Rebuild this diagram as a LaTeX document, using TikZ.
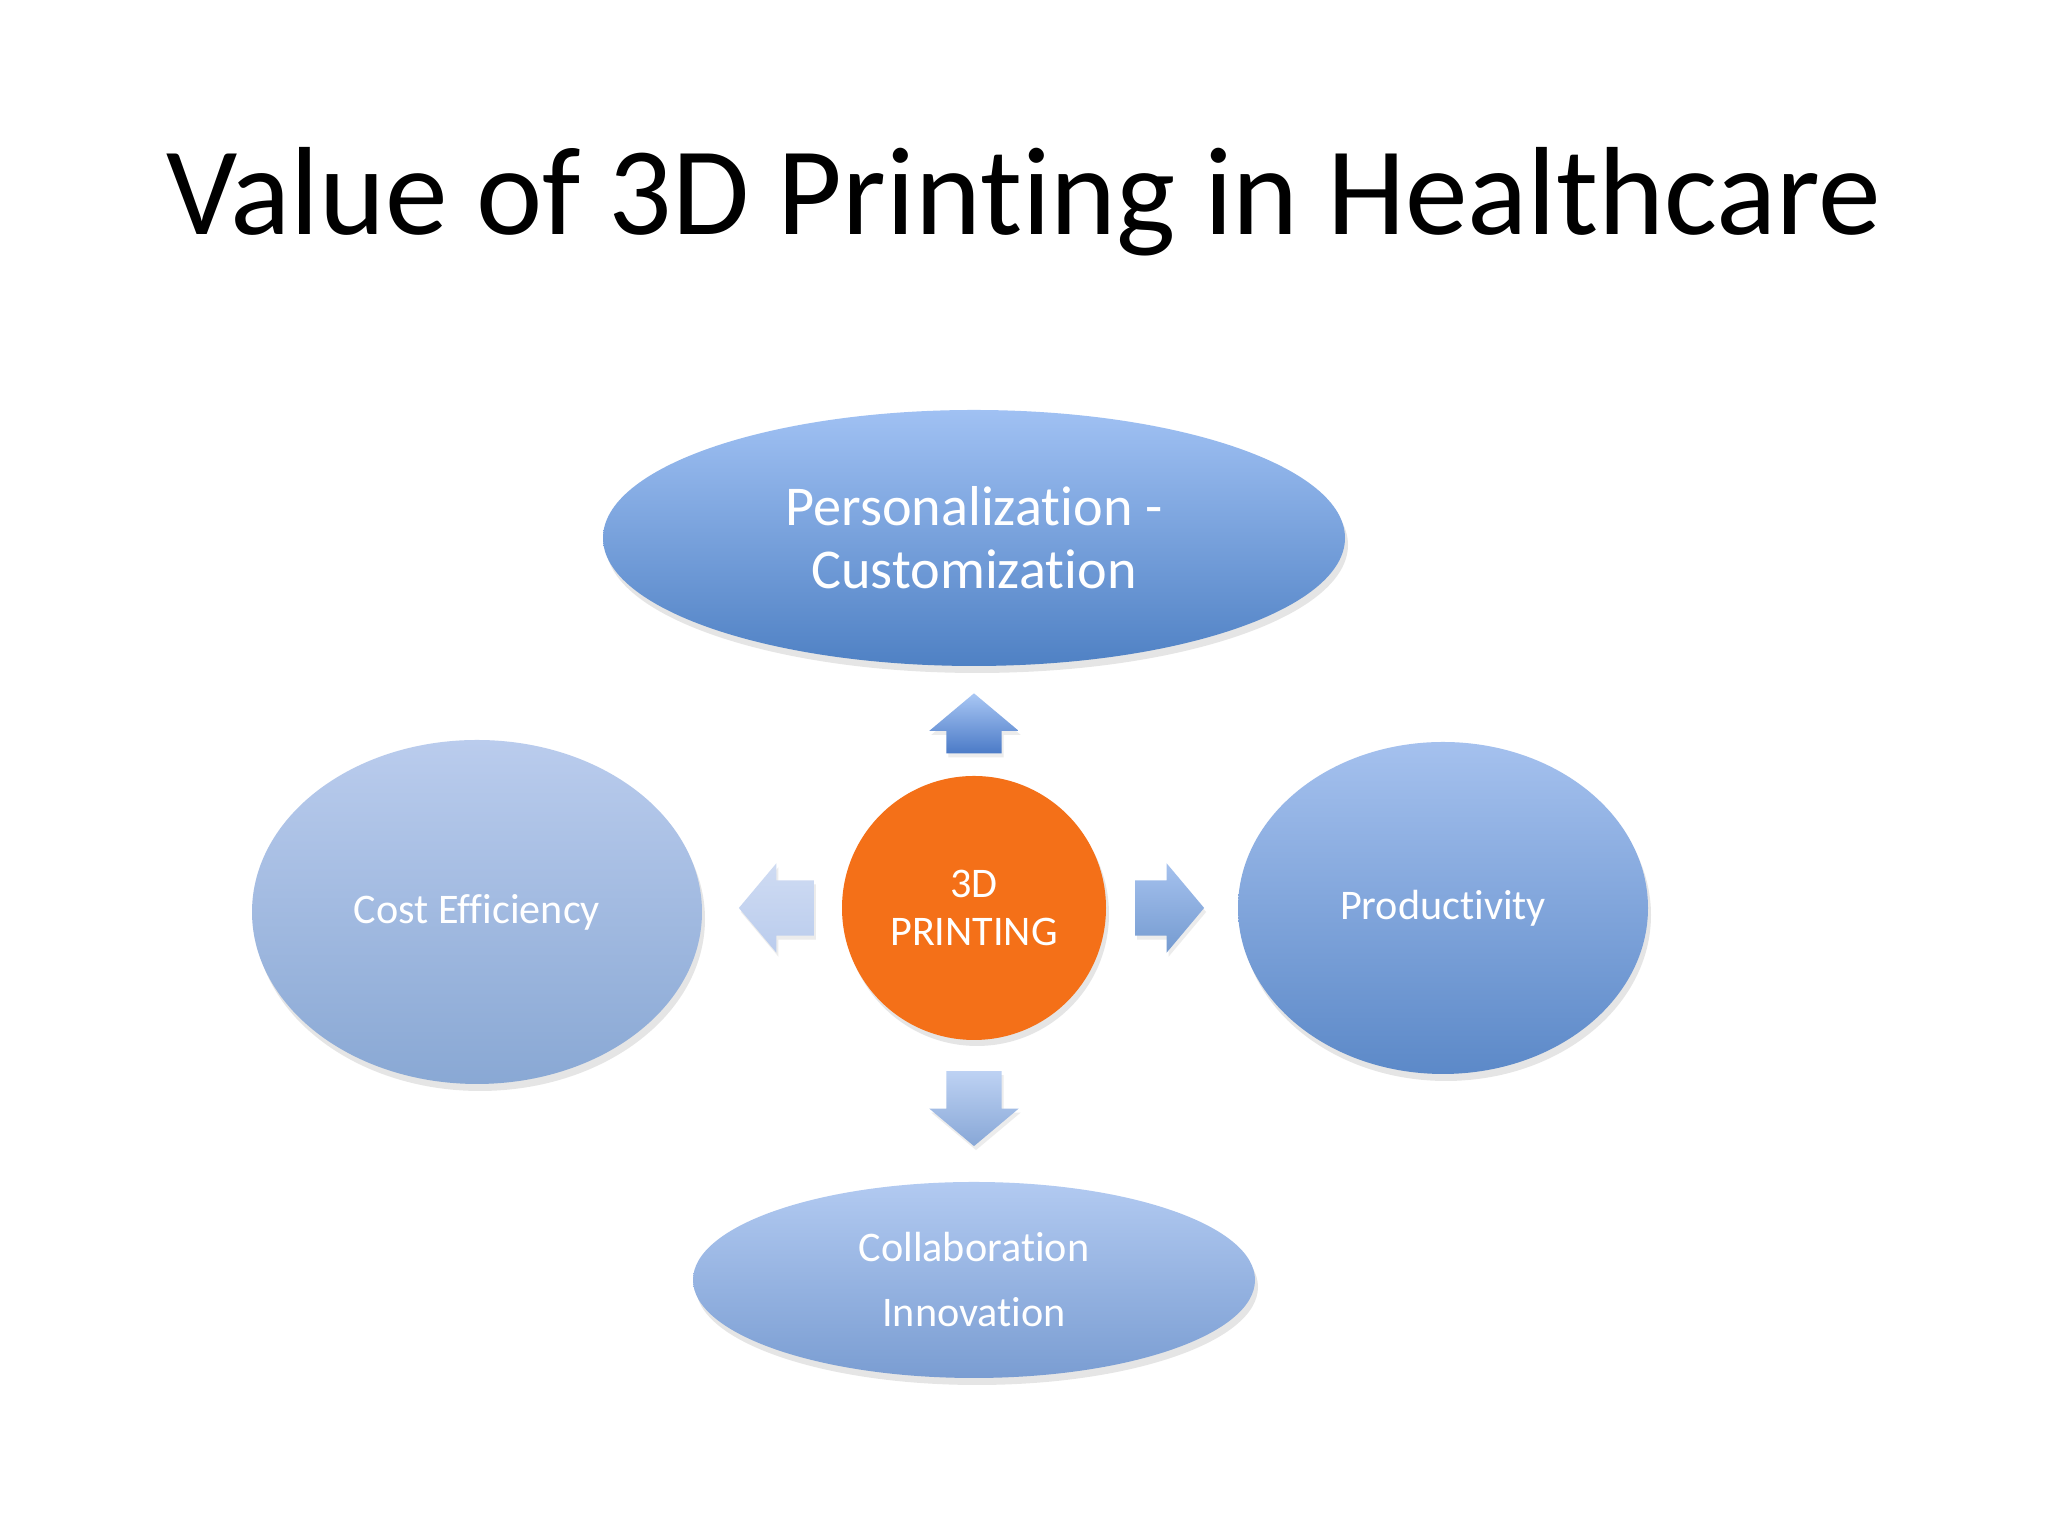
\documentclass[tikz,border=0pt]{standalone}
\usepackage{fontspec}
\setmainfont{Carlito}[Ligatures=NoCommon]
\usetikzlibrary{positioning, calc, shapes.geometric, shapes.arrows, shadows}
\definecolor{hubOrange}{RGB}{244,112,24}
\definecolor{topA}{RGB}{160,193,243}
\definecolor{topB}{RGB}{79,129,196}
\definecolor{costA}{RGB}{186,204,237}
\definecolor{costB}{RGB}{137,168,212}
\definecolor{prodA}{RGB}{165,193,238}
\definecolor{prodB}{RGB}{92,137,200}
\definecolor{colA}{RGB}{178,202,241}
\definecolor{colB}{RGB}{122,157,210}

\begin{document}
\begin{tikzpicture}[
    % bubbles around the centre
    bubble/.style={
        ellipse,
        draw=none,
        inner sep=0pt, outer sep=0pt,
        align=center,
        text=white,
        font=\fontsize{12}{18.5}\selectfont,
        drop shadow={opacity=0.2, shadow xshift=0.03cm, shadow yshift=-0.07cm}
    },
    % orange centre circle
    hub/.style={
        circle,
        draw=none,
        fill=hubOrange,
        minimum size=2.64cm,
        inner sep=0pt, outer sep=0pt,
        align=center,
        text=white,
        font=\fontsize{12}{13.5}\selectfont,
        drop shadow={opacity=0.2, shadow xshift=0.03cm, shadow yshift=-0.06cm}
    },
    % block arrows pointing out of the centre
    blockarrow/.style={
        single arrow,
        draw=none,
        outer sep=0pt,
        minimum width=0.88cm,
        single arrow head extend=0.17cm,
        single arrow tip angle=100,
        drop shadow={opacity=0.15, shadow xshift=0.02cm, shadow yshift=-0.04cm}
    },
    across/.style={blockarrow, inner xsep=0pt, inner ysep=0.27cm},
    upright/.style={blockarrow, inner xsep=0.27cm, inner ysep=0pt}
]

    % --- page and title ---
    \fill[white] (0,0) rectangle (20.48,15.36);
    \useasboundingbox (0,0) rectangle (20.48,15.36);
    \node[anchor=base, font=\fontsize{35.7}{42}\selectfont] (title) at (10.24,13.01) {Value of 3D Printing in Healthcare};

    % --- centre ---
    \node[hub] (core) at (9.74,6.28) {3D\\PRINTING};

    % --- the four values ---
    \node[bubble, above=1.10cm of core, minimum width=7.42cm, minimum height=2.56cm,
          top color=topA, bottom color=topB, font=\fontsize{16}{18}\selectfont] (custom) {Personalization -\\Customization};
    \node[bubble, left=1.40cm of core, yshift=-0.04cm, minimum width=4.50cm, minimum height=3.44cm,
          top color=costA, bottom color=costB] (cost) {Cost Efficiency};
    \node[bubble, right=1.32cm of core, minimum width=4.10cm, minimum height=3.32cm,
          top color=prodA, bottom color=prodB] (prod) {Productivity};
    \node[bubble, below=1.42cm of core, minimum width=5.62cm, minimum height=1.96cm,
          top color=colA, bottom color=colB] (collab) {Collaboration\\Innovation};

    % --- arrows between centre and values ---
    \node[upright, shape border rotate=90, minimum height=0.60cm,
          top color=topA!90!white, bottom color=topB!95!blue] (toCustom) at ($(core.north)+(0,0.41)$) {};
    \node[across, shape border rotate=180, minimum height=0.75cm,
          top color=costA!70!white, bottom color=costA] (toCost) at ($(core.west)+(-0.54,0)$) {};
    \node[across, shape border rotate=0, minimum height=0.69cm,
          top color=prodA, bottom color=prodB!85!white] (toProd) at ($(core.east)+(0.52,0)$) {};
    \node[upright, shape border rotate=270, minimum height=0.75cm,
          top color=colA!85!white, bottom color=colB!90!white] (toCollab) at ($(core.south)+(0,-0.57)$) {};

\end{tikzpicture}
\end{document}
